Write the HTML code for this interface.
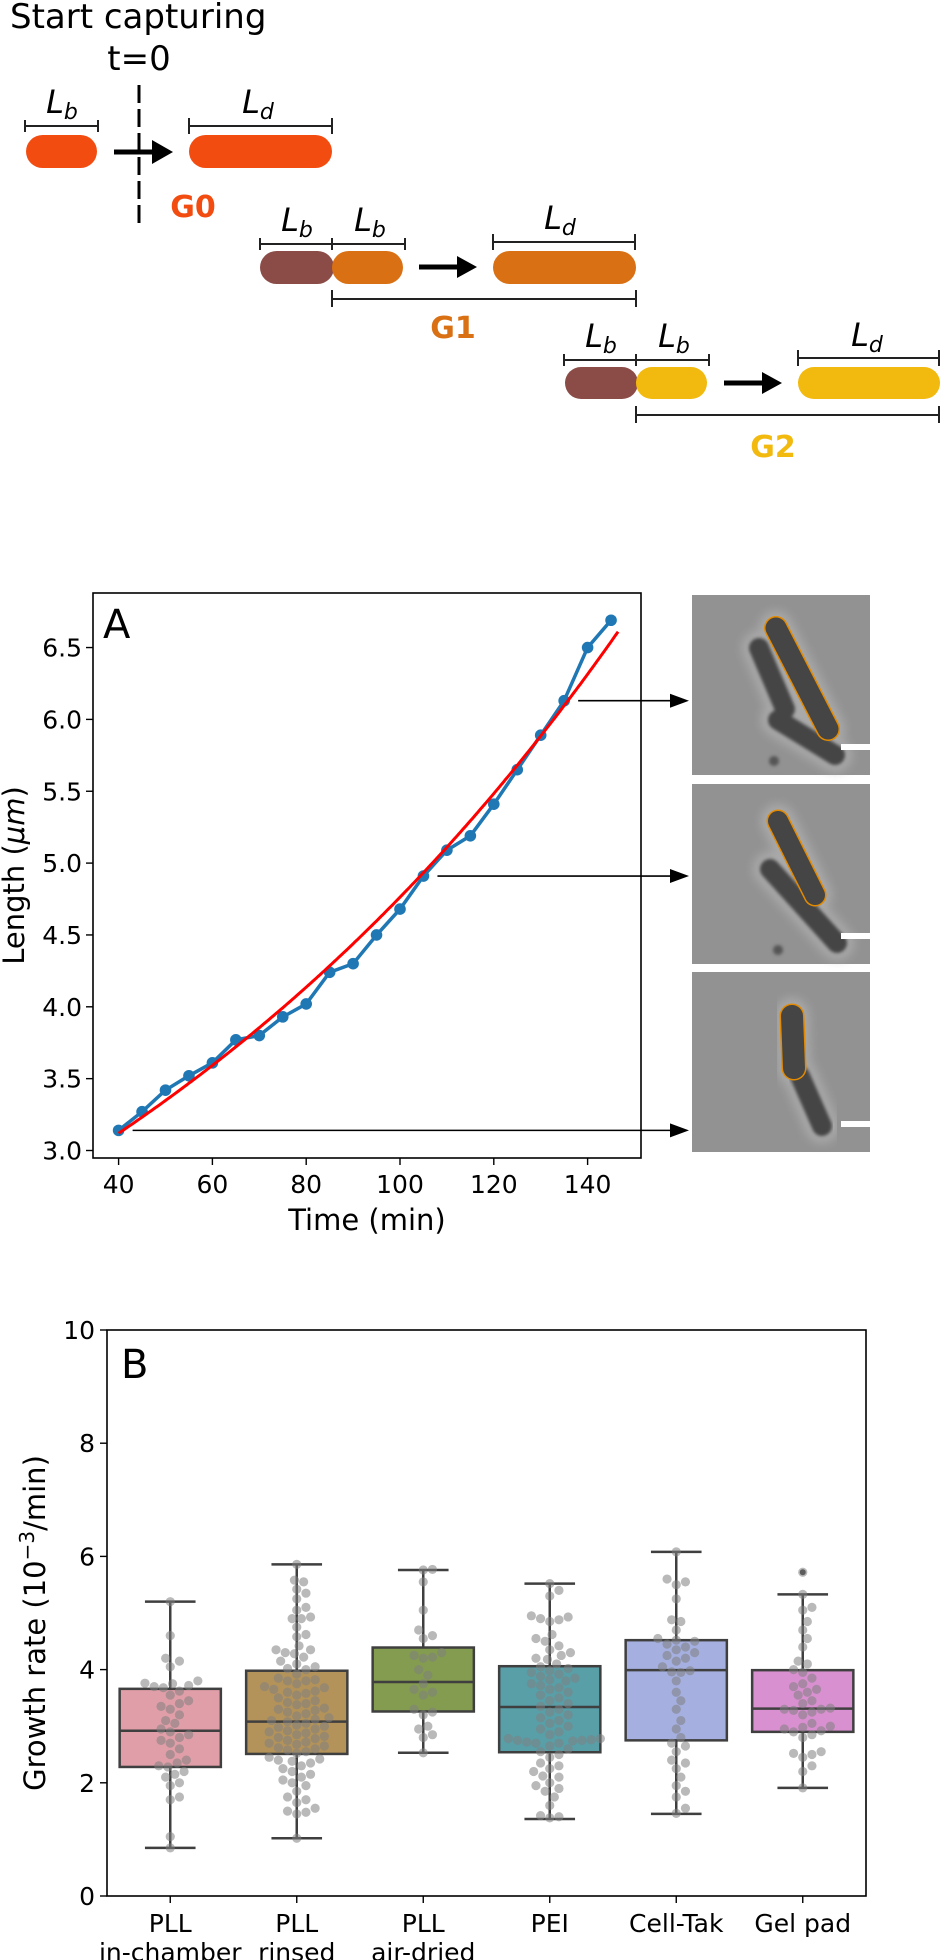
<!DOCTYPE html>
<html><head><meta charset="utf-8">
<style>
html,body{margin:0;padding:0;background:#fff;}
svg{display:block;font-family:"DejaVu Sans","Liberation Sans",sans-serif;}
</style></head>
<body>
<svg id="fig" width="941" height="1960" viewBox="0 0 941 1960" xmlns="http://www.w3.org/2000/svg">
<defs>
<filter id="blur2" x="-50%" y="-50%" width="200%" height="200%"><feGaussianBlur stdDeviation="1.6"/></filter>
<filter id="blur5" x="-50%" y="-50%" width="200%" height="200%"><feGaussianBlur stdDeviation="5"/></filter>
</defs>

<g>
<text x="10" y="28" font-size="34">Start capturing</text>
<text x="139" y="70" font-size="34" text-anchor="middle">t=0</text>
<line x1="139" y1="85" x2="139" y2="223" stroke="#000" stroke-width="3" stroke-dasharray="18 6"/>

<rect x="26" y="135" width="71" height="33" rx="16.5" fill="#f24c10"/>
<g stroke="#222" stroke-width="2"><line x1="25" y1="126" x2="98" y2="126"/><line x1="25" y1="120" x2="25" y2="132"/><line x1="98" y1="120" x2="98" y2="132"/></g>
<text x="62" y="113" font-size="32" font-style="italic" text-anchor="middle">L<tspan font-size="22" dy="6">b</tspan></text>
<line x1="114" y1="152" x2="155" y2="152" stroke="#000" stroke-width="5"/>
<polygon points="152,140 173,152 152,164" fill="#000"/>
<rect x="189" y="135" width="143" height="33" rx="16.5" fill="#f24c10"/>
<g stroke="#222" stroke-width="2"><line x1="189" y1="126" x2="332" y2="126"/><line x1="189" y1="118" x2="189" y2="134"/><line x1="332" y1="118" x2="332" y2="134"/></g>
<text x="258" y="113" font-size="32" font-style="italic" text-anchor="middle">L<tspan font-size="22" dy="6">d</tspan></text>
<text x="193" y="217" font-size="30" font-weight="bold" fill="#f24c10" text-anchor="middle">G0</text>

<rect x="260" y="251" width="74" height="33" rx="16.5" fill="#8b4c48"/>
<rect x="332" y="251" width="71" height="33" rx="16.5" fill="#d97014"/>
<g stroke="#222" stroke-width="2"><line x1="260" y1="244" x2="405" y2="244"/><line x1="260" y1="238" x2="260" y2="250"/><line x1="332" y1="238" x2="332" y2="250"/><line x1="405" y1="238" x2="405" y2="250"/></g>
<text x="297" y="231" font-size="32" font-style="italic" text-anchor="middle">L<tspan font-size="22" dy="6">b</tspan></text>
<text x="370" y="231" font-size="32" font-style="italic" text-anchor="middle">L<tspan font-size="22" dy="6">b</tspan></text>
<line x1="419" y1="267" x2="460" y2="267" stroke="#000" stroke-width="5"/>
<polygon points="457,256 477,267 457,278" fill="#000"/>
<rect x="493" y="251" width="143" height="33" rx="16.5" fill="#d97014"/>
<g stroke="#222" stroke-width="2"><line x1="493" y1="242" x2="635" y2="242"/><line x1="493" y1="234" x2="493" y2="250"/><line x1="635" y1="234" x2="635" y2="250"/></g>
<text x="560" y="229" font-size="32" font-style="italic" text-anchor="middle">L<tspan font-size="22" dy="6">d</tspan></text>
<g stroke="#222" stroke-width="2"><line x1="332" y1="299" x2="636" y2="299"/><line x1="332" y1="290" x2="332" y2="307"/><line x1="636" y1="290" x2="636" y2="307"/></g>
<text x="453" y="338" font-size="30" font-weight="bold" fill="#d97014" text-anchor="middle">G1</text>

<rect x="565" y="367" width="73" height="32" rx="16" fill="#8b4c48"/>
<rect x="636" y="367" width="71" height="32" rx="16" fill="#f2b90f"/>
<g stroke="#222" stroke-width="2"><line x1="564" y1="360" x2="709" y2="360"/><line x1="564" y1="354" x2="564" y2="366"/><line x1="636" y1="354" x2="636" y2="366"/><line x1="709" y1="354" x2="709" y2="366"/></g>
<text x="601" y="347" font-size="32" font-style="italic" text-anchor="middle">L<tspan font-size="22" dy="6">b</tspan></text>
<text x="674" y="347" font-size="32" font-style="italic" text-anchor="middle">L<tspan font-size="22" dy="6">b</tspan></text>
<line x1="724" y1="383" x2="765" y2="383" stroke="#000" stroke-width="5"/>
<polygon points="762,372 782,383 762,394" fill="#000"/>
<rect x="798" y="367" width="142" height="32" rx="16" fill="#f2b90f"/>
<g stroke="#222" stroke-width="2"><line x1="798" y1="358" x2="939" y2="358"/><line x1="798" y1="350" x2="798" y2="366"/><line x1="939" y1="350" x2="939" y2="366"/></g>
<text x="867" y="346" font-size="32" font-style="italic" text-anchor="middle">L<tspan font-size="22" dy="6">d</tspan></text>
<g stroke="#222" stroke-width="2"><line x1="636" y1="415" x2="939" y2="415"/><line x1="636" y1="406" x2="636" y2="423"/><line x1="939" y1="406" x2="939" y2="423"/></g>
<text x="773" y="457" font-size="30" font-weight="bold" fill="#f2b90f" text-anchor="middle">G2</text>
</g>

<g>
 <g transform="translate(692,595)">
  <rect width="178" height="180" fill="#929292"/>
  <g filter="url(#blur5)" stroke-linecap="round" stroke="#b4b4b4" opacity="0.7"><line x1="67" y1="53" x2="93" y2="114" stroke-width="34"/><line x1="86" y1="125" x2="143" y2="160" stroke-width="34"/><line x1="84" y1="33" x2="136" y2="134" stroke-width="34"/></g>
  <g filter="url(#blur2)" stroke-linecap="round" stroke="#444"><line x1="67" y1="53" x2="93" y2="114" stroke-width="20"/><line x1="86" y1="125" x2="143" y2="160" stroke-width="20"/><circle cx="82" cy="166" r="5" fill="#555" stroke="none"/></g>
  <line x1="84" y1="33" x2="136" y2="134" stroke="#e38a00" stroke-width="24" stroke-linecap="round"/>
  <line x1="84" y1="33" x2="136" y2="134" stroke="#454545" stroke-width="21" stroke-linecap="round"/>
  <rect x="149" y="149" width="29" height="6" fill="#fff"/>
 </g>
 <g transform="translate(692,784)">
  <rect width="178" height="180" fill="#929292"/>
  <g filter="url(#blur5)" stroke-linecap="round" stroke="#b4b4b4" opacity="0.7"><line x1="78" y1="85" x2="145" y2="159" stroke-width="34"/><line x1="86" y1="37" x2="123" y2="111" stroke-width="34"/></g>
  <g filter="url(#blur2)" stroke-linecap="round" stroke="#444"><line x1="78" y1="85" x2="145" y2="159" stroke-width="20"/><circle cx="86" cy="166" r="5" fill="#555" stroke="none"/></g>
  <line x1="86" y1="37" x2="123" y2="111" stroke="#e38a00" stroke-width="23" stroke-linecap="round"/>
  <line x1="86" y1="37" x2="123" y2="111" stroke="#454545" stroke-width="20" stroke-linecap="round"/>
  <rect x="149" y="149" width="29" height="6" fill="#fff"/>
 </g>
 <g transform="translate(692,972)">
  <rect width="178" height="180" fill="#929292"/>
  <g filter="url(#blur5)" stroke-linecap="round" stroke="#b4b4b4" opacity="0.7"><line x1="108" y1="104" x2="130" y2="154" stroke-width="34"/><line x1="100" y1="43" x2="102" y2="97" stroke-width="34"/></g>
  <g filter="url(#blur2)" stroke-linecap="round" stroke="#444"><line x1="108" y1="104" x2="130" y2="154" stroke-width="20"/></g>
  <line x1="100" y1="44" x2="102" y2="96" stroke="#e38a00" stroke-width="25" stroke-linecap="round"/>
  <line x1="100" y1="44" x2="102" y2="96" stroke="#454545" stroke-width="22" stroke-linecap="round"/>
  <rect x="149" y="149" width="29" height="6" fill="#fff"/>
 </g>
</g>

<g id="chartA"></g>
<g id="chartB"></g>
</svg>

<script>
const timesA = [40,45,50,55,60,65,70,75,80,85,90,95,100,105,110,115,120,125,130,135,140,145];
const lengthsA = [3.14,3.27,3.42,3.52,3.61,3.77,3.80,3.93,4.02,4.24,4.30,4.50,4.68,4.91,5.09,5.19,5.41,5.65,5.89,6.13,6.50,6.69];
const fitAmp = [3.12];
const fitRate = [0.00705];
const fitSpan = [40,146.5];
const yTicksA = [3.0,3.5,4.0,4.5,5.0,5.5,6.0,6.5];
const xTicksA = [40,60,80,100,120,140];
const arrowTimesA = [135,105,40];

const catsB = [["PLL","in-chamber"],["PLL","rinsed"],["PLL","air-dried"],["PEI"],["Cell-Tak"],["Gel pad"]];
const colorsB = ["#e09ea8","#b39359","#849c4f","#589fa8","#a5b0e0","#d990d0"];
const whiskLoB = [0.85,1.02,2.53,1.36,1.45,1.91];
const q1B = [2.28,2.51,3.26,2.54,2.75,2.90];
const medB = [2.92,3.08,3.78,3.34,3.99,3.31];
const q3B = [3.66,3.98,4.39,4.06,4.52,3.99];
const whiskHiB = [5.20,5.86,5.76,5.52,6.08,5.33];
const fliersB = [[],[],[],[],[],[5.72]];
const yTicksB = [0,2,4,6,8,10];
const pts1 = [5.20,4.60,4.20,4.15,4.05,3.80,3.75,3.76,3.72,3.70,3.68,3.62,3.55,3.45,3.40,3.35,3.30,3.20,3.10,3.05,2.95,2.90,2.85,2.80,2.75,2.70,2.60,2.50,2.40,2.35,2.30,2.28,2.20,2.15,2.10,2.00,1.95,1.75,1.70,1.05,0.85];
const pts2 = [5.86,5.58,5.55,5.42,5.35,5.25,5.10,5.05,4.93,4.90,4.90,4.75,4.62,4.58,4.42,4.35,4.35,4.30,4.28,4.22,4.15,4.10,4.05,4.02,4.00,3.92,3.85,3.82,3.80,3.80,3.75,3.70,3.68,3.65,3.62,3.60,3.58,3.55,3.50,3.45,3.42,3.40,3.38,3.32,3.30,3.28,3.25,3.22,3.18,3.15,3.12,3.10,3.08,3.05,3.02,3.00,2.98,2.95,2.92,2.90,2.88,2.85,2.82,2.80,2.78,2.75,2.72,2.70,2.68,2.65,2.62,2.60,2.58,2.55,2.52,2.45,2.42,2.40,2.38,2.35,2.30,2.25,2.20,2.15,2.10,2.05,2.00,1.95,1.85,1.75,1.70,1.65,1.55,1.50,1.48,1.45,1.02];
const pts3 = [5.77,5.76,5.55,5.05,4.70,4.60,4.55,4.30,4.25,4.22,4.20,4.00,3.90,3.75,3.65,3.60,3.55,3.30,3.25,3.20,3.00,2.95,2.85,2.80,2.53];
const pts4 = [5.52,5.40,5.30,4.95,4.93,4.90,4.88,4.85,4.62,4.55,4.50,4.42,4.35,4.30,4.25,4.20,4.18,4.10,4.05,4.02,3.98,3.95,3.92,3.88,3.85,3.82,3.80,3.75,3.72,3.68,3.65,3.60,3.55,3.50,3.45,3.40,3.35,3.30,3.25,3.20,3.15,3.10,3.05,3.00,2.95,2.90,2.85,2.78,2.78,2.76,2.75,2.75,2.74,2.72,2.70,2.70,2.65,2.60,2.55,2.50,2.45,2.35,2.30,2.25,2.20,2.12,2.10,2.00,1.95,1.90,1.85,1.75,1.60,1.42,1.40,1.38];
const pts5 = [6.08,5.60,5.55,5.50,5.25,4.88,4.85,4.70,4.55,4.52,4.50,4.45,4.40,4.35,4.30,4.25,4.20,4.15,4.05,3.98,3.96,3.95,3.80,3.60,3.45,3.30,3.10,2.95,2.80,2.70,2.65,2.55,2.40,2.35,2.25,2.10,1.95,1.85,1.75,1.55,1.46];
const pts6 = [5.72,5.33,5.10,5.05,4.85,4.70,4.55,4.40,4.15,4.10,4.00,3.95,3.85,3.75,3.70,3.65,3.60,3.55,3.45,3.40,3.32,3.30,3.30,3.28,3.25,3.20,3.05,3.00,2.98,2.95,2.92,2.90,2.85,2.80,2.55,2.52,2.50,2.45,2.30,2.20,1.91];
const pointsB = [pts1,pts2,pts3,pts4,pts5,pts6];

const NS = "http://www.w3.org/2000/svg";
function mk(tag, attrs, parent){ const e=document.createElementNS(NS,tag); for(const k in attrs) e.setAttribute(k,attrs[k]); parent.appendChild(e); return e; }

(function(){
 const g = document.getElementById('chartA');
 const L=93,R=641,T=593,B=1158;
 const xA = t => 118.6 + (t-40)*4.69;
 const yA = v => 1150.5 - (v-3.0)*143.7;
 const frame = mk('rect',{x:L,y:T,width:R-L,height:B-T,fill:'none',stroke:'#000','stroke-width':1.6},g);
 
 
 yTicksA.forEach(v=>{
  const tk=mk('line',{x1:L-7,x2:L,y1:yA(v),y2:yA(v),stroke:'#000','stroke-width':1.4},g);
  
  
  const tx=mk('text',{x:L-11,y:yA(v)+9,'font-size':25,'text-anchor':'end'},g);
  tx.textContent=v.toFixed(1);
  
  
 });
 xTicksA.forEach(t=>{
  const tk=mk('line',{x1:xA(t),x2:xA(t),y1:B,y2:B+7,stroke:'#000','stroke-width':1.4},g);
  
  
  const tx=mk('text',{x:xA(t),y:B+35,'font-size':25,'text-anchor':'middle'},g);
  tx.textContent=String(t);
  
  
 });
 const xl=mk('text',{x:(L+R)/2,y:1230,'font-size':29,'text-anchor':'middle'},g);
 xl.textContent='Time (min)';
 
 
 const yl=mk('text',{x:0,y:0,'font-size':29,'text-anchor':'middle',transform:`translate(24,${(T+B)/2}) rotate(-90)`},g);
 yl.innerHTML='Length (<tspan font-style="italic">μm</tspan>)';
 
 
 const pl=mk('text',{x:103,y:638,'font-size':40},g);
 pl.textContent='A';
 
 
 const d = timesA.map((t,i)=>(i?'L':'M')+xA(t).toFixed(1)+','+yA(lengthsA[i]).toFixed(1)).join(' ');
 const ln=mk('path',{d:d,fill:'none',stroke:'#1f77b4','stroke-width':3.5},g);
 
 
 timesA.forEach((t,i)=>{
  const c=mk('circle',{cx:xA(t),cy:yA(lengthsA[i]),r:5.8,fill:'#1f77b4'},g);
  
  
 });
 let fd='';
 for(let t=fitSpan[0];t<=fitSpan[1]+0.01;t+=0.5){ const v=fitAmp[0]*Math.exp(fitRate[0]*(t-fitSpan[0])); fd+=(fd?'L':'M')+xA(t).toFixed(1)+','+yA(v).toFixed(1)+' '; }
 const fl=mk('path',{d:fd,fill:'none',stroke:'#ff0000','stroke-width':3},g);
 
 
 arrowTimesA.forEach(t=>{
  const i=timesA.indexOf(t); const y=yA(lengthsA[i]);
  const a=mk('line',{x1:xA(t)+14,x2:674,y1:y,y2:y,stroke:'#000','stroke-width':1.6},g);
  
  
  const h=mk('polygon',{points:`${670},${y-7} ${689},${y} ${670},${y+7}`,fill:'#000'},g);
  
  
 });
})();

(function(){
 const g=document.getElementById('chartB');
 const L=107,R=866,T=1330,B=1896;
 const yB = v => B - v*(B-T)/10;
 const step=(R-L)/catsB.length;
 const xB = i => L + step*(i+0.5);
 const bw = step*0.8;
 catsB.forEach((c,i)=>{
  const cx=xB(i);
  const w1=mk('line',{x1:cx,x2:cx,y1:yB(whiskHiB[i]),y2:yB(q3B[i]),stroke:'#3f3f3f','stroke-width':2.5},g);
  
  
  const w2=mk('line',{x1:cx,x2:cx,y1:yB(q1B[i]),y2:yB(whiskLoB[i]),stroke:'#3f3f3f','stroke-width':2.5},g);
  
  
  [whiskHiB[i],whiskLoB[i]].forEach(v=>{
   const cap=mk('line',{x1:cx-bw/4,x2:cx+bw/4,y1:yB(v),y2:yB(v),stroke:'#3f3f3f','stroke-width':2.5},g);
   
   
  });
  const box=mk('rect',{x:cx-bw/2,y:yB(q3B[i]),width:bw,height:yB(q1B[i])-yB(q3B[i]),fill:colorsB[i],stroke:'#3f3f3f','stroke-width':2.5},g);
  
  
  const md=mk('line',{x1:cx-bw/2,x2:cx+bw/2,y1:yB(medB[i]),y2:yB(medB[i]),stroke:'#3f3f3f','stroke-width':2.5},g);
  
  
  fliersB[i].forEach(v=>{
   const f=mk('circle',{cx:cx,cy:yB(v),r:3,fill:'#333'},g);
   
   
  });
 });
 const r=4.6;
 pointsB.forEach((vals,i)=>{
  const placed=[]; const cx=xB(i);
  vals.slice().sort((a,b)=>a-b).forEach(v=>{
   const y=yB(v); let off=0;
   for(let k=0;k<200;k++){
    const cand = (k===0)?0:((k%2? 1:-1)*Math.ceil(k/2)*r*0.5);
    if(placed.every(p=>Math.hypot(p[0]-cand,p[1]-y)>=2*r-0.2)){off=cand;break;}
   }
   placed.push([off,y]);
   const c=mk('circle',{cx:cx+off,cy:y,r:r,fill:'#808080','fill-opacity':0.55},g);
   
   
  });
 });
 const frame=mk('rect',{x:L,y:T,width:R-L,height:B-T,fill:'none',stroke:'#000','stroke-width':1.6},g);
 
 
 yTicksB.forEach(v=>{
  const tk=mk('line',{x1:L-7,x2:L,y1:yB(v),y2:yB(v),stroke:'#000','stroke-width':1.4},g);
  
  
  const tx=mk('text',{x:L-12,y:yB(v)+9,'font-size':25,'text-anchor':'end'},g);
  tx.textContent=String(v);
  
  
 });
 catsB.forEach((c,i)=>{
  const tk=mk('line',{x1:xB(i),x2:xB(i),y1:B,y2:B+7,stroke:'#000','stroke-width':1.4},g);
  
  
  const tx=mk('text',{x:xB(i),y:1932,'font-size':25,'text-anchor':'middle'},g);
  
  
  c.forEach((s,j)=>{ const ts=mk('tspan',{x:xB(i),dy:j?29:0},tx); ts.textContent=s; });
 });
 const yl=mk('text',{x:0,y:0,'font-size':29,'text-anchor':'middle',transform:`translate(45,${(T+B)/2+10}) rotate(-90)`},g);
 yl.innerHTML='Growth rate (10<tspan font-size="20" dy="-11">−3</tspan><tspan dy="11">/min)</tspan>';
 
 
 const pl=mk('text',{x:121,y:1378,'font-size':40},g);
 pl.textContent='B';
 
 
})();
</script>
</body></html>
